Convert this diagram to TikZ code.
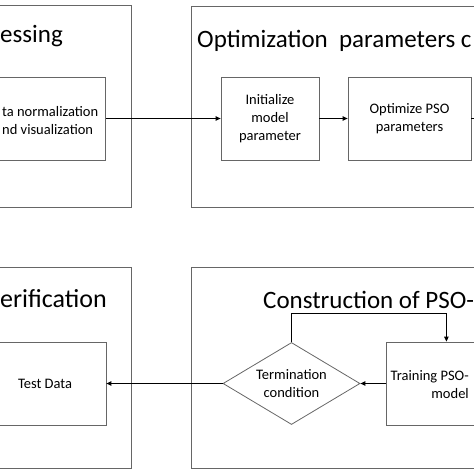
\documentclass[tikz,border=0pt]{standalone}
\usepackage{fontspec}
\setmainfont{Carlito}
\usetikzlibrary{arrows.meta,shapes.geometric}

\tikzset{
  frame/.style={draw=black!60, line width=0.9pt},
  inbox/.style={draw=black!60, line width=0.8pt, minimum height=83pt, inner sep=0pt,
    align=center, font=\fontsize{14.5}{18}\selectfont},
  txt/.style={inner sep=0pt, font=\fontsize{14.5}{18}\selectfont},
  dec/.style={draw=black!60, line width=0.8pt, diamond, shape aspect=1.67,
    minimum width=137pt, minimum height=82pt,
    inner sep=0pt, align=center, font=\fontsize{14.5}{18}\selectfont},
  title/.style={inner sep=0pt, font=\fontsize{25}{30}\selectfont},
  arr/.style={-{Triangle[length=5pt,width=4.5pt]}, line width=0.9pt},
}

\begin{document}
\begin{tikzpicture}[x=1pt,y=-1pt]
\useasboundingbox (0,0) rectangle (474,474);
\clip (0,0) rectangle (474,474);

% Preprocessing
\draw[frame] (-40,5) rectangle (131,207);
\node[title, anchor=base west] (pretitle) at (0,42) {essing};
\node[inbox, minimum width=130pt, anchor=east] (norm) at (106,118.5) {};
\node[txt, align=left, anchor=west] (normtext) at (2,121) {ta normalization\\nd visualization};

% Optimization
\draw[frame] (191,6) rectangle (520,207);
\node[title, anchor=base west] (opttitle) at (197,47) {Optimization\ \ parameters c};
\node[inbox, minimum width=98pt] (init) at (270,118.5) {Initialize\\model\\parameter};
\node[inbox, minimum width=123pt] (opt) at (409.5,118.5) {Optimize PSO\\parameters};
\coordinate (optout) at (500,118.5);

% Verification
\draw[frame] (-40,267) rectangle (131,468);
\node[title, font=\fontsize{26}{30}\selectfont, anchor=base east] (vertitle) at (107,307) {erification};
\node[inbox, minimum width=122pt] (test) at (45,383.5) {Test Data};

% Construction
\draw[frame] (191,267) rectangle (520,468);
\node[title, anchor=base west] (constitle) at (263,308) {Construction of PSO-};
\node[inbox, minimum width=120pt, anchor=west] (train) at (386,383.5) {};
\node[txt, align=right, anchor=east] (traintext) at (469,385) {Training PSO-\\model};
\node[dec] (term) at (291.5,383.5) {Termination\\condition};

% Connectors
\draw[arr] (norm) -- (init);
\draw[arr] (init) -- (opt);
\draw[arr] (opt) -- (optout);
\draw[arr] (term) -- (test);
\draw[arr] (train) -- (term);
\draw[arr] (term.north) -- ++(0,-29) -| (train.north);

\end{tikzpicture}
\end{document}
